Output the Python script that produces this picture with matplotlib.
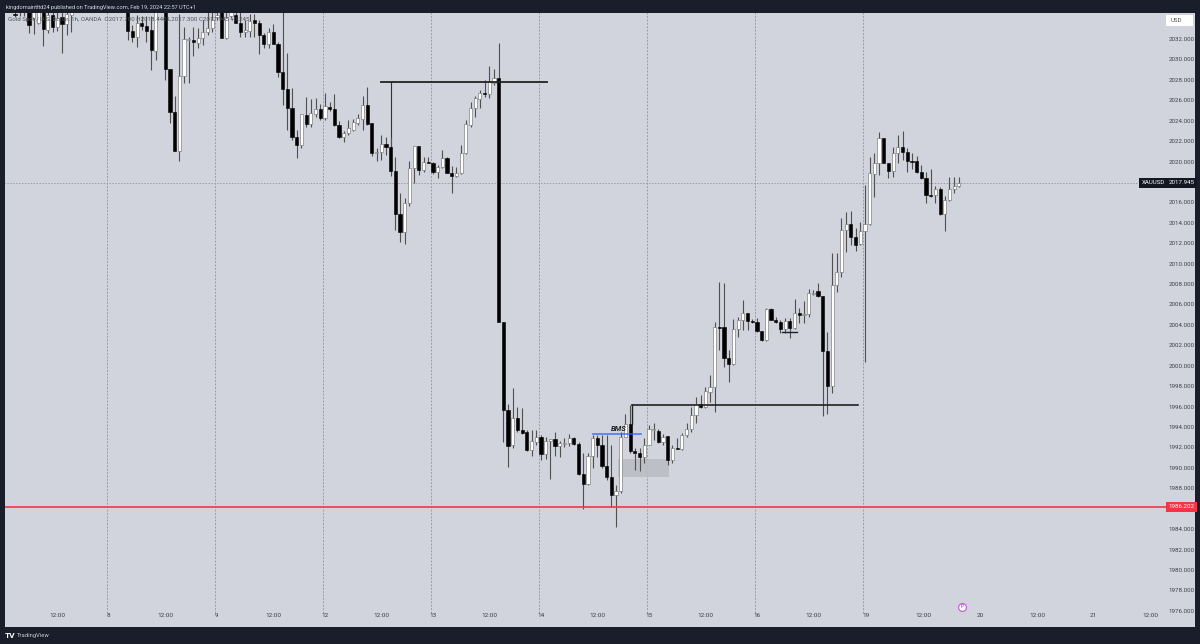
import matplotlib
matplotlib.use('Agg')
import matplotlib.pyplot as plt
from matplotlib.patches import Rectangle

plt.rcParams['font.family'] = ['Roboto', 'DejaVu Sans']

# hourly candles, first one sits at bar -20 (bar 0 = Feb 8 00:00)
first_bar = -20

opens = [
    2034.5, 2035.2, 2035.4, 2035.3, 2034.1, 2033.6, 2035.0, 2032.9, 2034.4, 2033.2,
    2034.2, 2033.5, 2034.4, 2035.0, 2035.8, 2036.4, 2036.0, 2036.6, 2037.2, 2036.9,
    2037.4, 2037.9, 2037.3, 2036.8, 2035.3, 2032.8, 2032.2, 2033.6, 2033.3, 2032.9,
    2030.8, 2035.3, 2035.0, 2029.1, 2024.9, 2021.0, 2028.4, 2031.9, 2031.9, 2031.6,
    2032.1, 2032.7, 2033.1, 2034.2, 2035.3, 2032.1, 2034.3, 2034.4, 2033.6, 2032.7,
    2032.8, 2033.9, 2033.6, 2032.4, 2031.5, 2032.7, 2031.5, 2028.8, 2027.1, 2025.2,
    2022.4, 2021.6, 2024.6, 2023.7, 2024.7, 2025.1, 2024.3, 2025.3, 2025.1, 2023.6,
    2022.4, 2022.8, 2023.1, 2023.8, 2024.2, 2025.5, 2023.8, 2020.8, 2020.9, 2021.7,
    2021.4, 2019.1, 2014.9, 2013.1, 2015.9, 2019.4, 2021.5, 2019.2, 2020.0, 2019.9,
    2019.0, 2019.5, 2020.3, 2018.9, 2018.6, 2018.9, 2020.8, 2023.6, 2025.2, 2026.1,
    2026.7, 2026.6, 2027.7, 2028.2, 2004.3, 1995.7, 1992.2, 1994.9, 1993.7, 1993.5,
    1991.7, 1992.5, 1993.0, 1991.4, 1992.6, 1992.8, 1992.1, 1992.3, 1992.4, 1992.9,
    1992.3, 1989.4, 1988.4, 1991.2, 1992.9, 1992.2, 1990.2, 1989.1, 1987.3, 1987.7,
    1993.0, 1994.3, 1991.6, 1991.5, 1991.1, 1992.2, 1993.7, 1993.6, 1992.5, 1993.1,
    1990.8, 1991.9, 1991.8, 1993.2, 1993.8, 1995.2, 1996.3, 1996.0, 1997.4, 1997.9,
    2003.8, 2003.8, 2000.8, 2000.2, 2003.6, 2004.5, 2005.2, 2004.4, 2004.3, 2003.4,
    2002.5, 2005.6, 2004.5, 2004.3, 2003.6, 2004.4, 2003.7, 2005.2, 2005.0, 2005.1,
    2007.0, 2007.3, 2006.8, 2001.4, 1998.0, 2007.9, 2009.2, 2013.3, 2013.9, 2012.6,
    2011.9, 2013.2, 2013.9, 2018.8, 2019.9, 2022.3, 2019.9, 2019.1, 2020.8, 2021.4,
    2020.9, 2020.1, 2020.1, 2019.0, 2018.4, 2016.7, 2016.7, 2017.3, 2014.9, 2016.2,
    2017.3, 2017.6,
]
highs = [
    2034.8, 2035.6, 2035.8, 2035.8, 2035.8, 2035.6, 2035.6, 2035.0, 2035.0, 2035.0,
    2034.8, 2035.0, 2035.6, 2036.2, 2036.8, 2037.2, 2036.9, 2037.6, 2038.0, 2037.8,
    2038.3, 2038.5, 2037.9, 2037.4, 2035.8, 2033.4, 2034.4, 2034.3, 2034.3, 2034.3,
    2035.8, 2036.4, 2035.8, 2029.1, 2026.4, 2034.5, 2033.2, 2032.2, 2033.2, 2033.1,
    2033.9, 2034.6, 2034.8, 2035.0, 2035.8, 2035.3, 2035.3, 2034.8, 2034.6, 2033.9,
    2034.5, 2034.5, 2033.9, 2032.6, 2033.1, 2033.5, 2031.7, 2035.8, 2030.6, 2027.2,
    2023.1, 2024.7, 2026.3, 2026.1, 2026.2, 2025.6, 2026.7, 2025.8, 2026.6, 2024.0,
    2023.0, 2024.1, 2024.2, 2024.7, 2026.4, 2027.3, 2023.8, 2021.3, 2022.6, 2022.4,
    2022.4, 2020.4, 2016.9, 2016.4, 2020.1, 2021.5, 2021.5, 2020.4, 2020.4, 2020.0,
    2019.7, 2021.1, 2020.4, 2019.6, 2019.5, 2021.6, 2024.1, 2025.8, 2026.4, 2027.0,
    2028.0, 2029.4, 2029.1, 2031.6, 2004.3, 1996.3, 1997.8, 1996.0, 1995.9, 1993.7,
    1993.7, 1993.7, 1993.2, 1993.0, 1992.8, 1993.5, 1992.6, 1992.9, 1993.3, 1993.0,
    1992.5, 1991.5, 1991.5, 1993.2, 1993.2, 1993.2, 1993.2, 1992.2, 1988.3, 1993.5,
    1995.3, 1996.2, 1991.9, 1991.9, 1992.9, 1994.2, 1994.4, 1993.8, 1993.3, 1993.1,
    1992.2, 1992.9, 1993.4, 1994.4, 1996.0, 1996.9, 1997.1, 1997.9, 1999.1, 2004.3,
    2008.2, 2008.1, 2001.5, 2004.6, 2004.8, 2006.4, 2005.2, 2004.6, 2004.7, 2003.4,
    2005.7, 2005.7, 2004.8, 2004.5, 2004.7, 2004.7, 2006.5, 2005.7, 2006.3, 2007.5,
    2007.4, 2008.1, 2006.8, 2003.3, 2011.0, 2011.0, 2014.5, 2015.1, 2015.2, 2013.5,
    2014.1, 2017.7, 2020.4, 2020.8, 2022.9, 2022.3, 2019.9, 2021.4, 2022.6, 2023.0,
    2021.3, 2020.8, 2020.5, 2019.7, 2019.0, 2019.3, 2017.6, 2017.5, 2016.6, 2018.5,
    2018.5, 2018.5,
]
lows = [
    2034.2, 2034.3, 2034.3, 2032.6, 2032.5, 2033.5, 2031.3, 2032.6, 2032.7, 2032.8,
    2030.6, 2032.4, 2032.7, 2034.7, 2035.2, 2035.8, 2035.4, 2036.1, 2036.6, 2036.4,
    2036.9, 2037.0, 2036.5, 2035.8, 2031.9, 2031.7, 2031.2, 2032.9, 2031.7, 2029.0,
    2029.9, 2034.8, 2028.0, 2023.8, 2021.0, 2020.1, 2027.7, 2027.7, 2030.3, 2031.1,
    2031.4, 2032.4, 2032.7, 2033.9, 2032.1, 2032.0, 2034.1, 2033.6, 2032.2, 2032.2,
    2032.2, 2032.2, 2030.5, 2031.1, 2031.1, 2031.5, 2028.3, 2025.5, 2023.1, 2022.1,
    2020.3, 2021.3, 2023.4, 2023.4, 2024.4, 2024.1, 2024.1, 2025.0, 2023.5, 2022.3,
    2021.9, 2022.6, 2023.0, 2023.6, 2023.1, 2023.6, 2020.5, 2020.1, 2020.2, 2020.6,
    2018.6, 2013.3, 2012.1, 2011.9, 2015.6, 2017.9, 2018.7, 2019.0, 2019.9, 2018.8,
    2018.4, 2019.4, 2018.9, 2016.9, 2018.5, 2018.8, 2020.7, 2023.4, 2024.4, 2025.2,
    2026.3, 2026.2, 2027.5, 2004.3, 1992.5, 1990.1, 1991.9, 1993.5, 1993.3, 1991.6,
    1991.2, 1992.2, 1990.8, 1990.9, 1988.9, 1991.2, 1991.1, 1992.0, 1992.1, 1992.2,
    1989.3, 1986.0, 1988.3, 1990.0, 1991.1, 1990.0, 1988.8, 1986.2, 1984.2, 1987.5,
    1993.0, 1991.5, 1989.8, 1989.7, 1990.5, 1992.2, 1992.7, 1992.4, 1992.2, 1990.3,
    1990.5, 1991.8, 1991.7, 1993.0, 1993.5, 1994.4, 1995.9, 1995.9, 1996.4, 1995.5,
    2001.5, 1999.9, 1998.4, 2000.1, 2002.8, 2003.5, 2003.5, 2004.2, 2003.3, 2002.4,
    2002.4, 2004.5, 2004.2, 2003.2, 2003.2, 2002.7, 2003.6, 2004.2, 2004.2, 2004.8,
    2006.9, 2006.7, 1995.1, 1995.3, 1997.3, 2007.2, 2008.7, 2011.1, 2011.8, 2011.2,
    2011.8, 2000.4, 2013.8, 2016.5, 2018.7, 2019.9, 2018.4, 2018.5, 2019.9, 2020.2,
    2019.0, 2019.3, 2018.9, 2018.3, 2015.9, 2016.5, 2015.9, 2014.8, 2013.2, 2016.1,
    2016.9, 2017.5,
]
closes = [
    2034.4, 2035.4, 2035.1, 2033.4, 2035.3, 2035.0, 2033.0, 2034.4, 2033.2, 2034.1,
    2033.5, 2034.5, 2035.0, 2035.8, 2036.4, 2036.0, 2036.6, 2037.2, 2036.9, 2037.4,
    2037.9, 2037.3, 2036.8, 2036.4, 2032.8, 2032.2, 2033.6, 2033.3, 2032.8, 2030.9,
    2035.3, 2036.0, 2029.1, 2024.9, 2021.0, 2028.4, 2032.0, 2032.0, 2031.7, 2032.1,
    2032.7, 2033.1, 2033.9, 2034.4, 2032.1, 2034.2, 2034.8, 2033.6, 2032.7, 2032.9,
    2033.8, 2033.6, 2032.4, 2031.5, 2032.7, 2031.5, 2028.8, 2027.1, 2025.2, 2022.4,
    2021.6, 2024.7, 2023.7, 2024.8, 2025.1, 2024.3, 2025.4, 2025.1, 2023.6, 2022.4,
    2022.8, 2023.3, 2023.9, 2024.3, 2025.5, 2023.7, 2020.8, 2020.9, 2021.7, 2021.4,
    2019.1, 2014.9, 2013.1, 2015.9, 2019.4, 2021.5, 2019.2, 2020.0, 2019.9, 2019.0,
    2019.5, 2020.3, 2018.9, 2018.6, 2018.9, 2020.8, 2023.7, 2025.2, 2026.2, 2026.7,
    2026.6, 2027.8, 2028.2, 2004.3, 1995.7, 1992.1, 1994.9, 1993.7, 1993.4, 1991.7,
    1992.6, 1993.0, 1991.4, 1992.6, 1992.8, 1992.1, 1992.4, 1992.4, 1992.9, 1992.3,
    1989.4, 1988.4, 1991.2, 1992.9, 1992.2, 1990.2, 1989.1, 1987.3, 1987.7, 1993.0,
    1994.3, 1991.6, 1991.5, 1991.1, 1992.2, 1993.8, 1993.8, 1992.5, 1993.0, 1990.8,
    1991.9, 1991.8, 1993.2, 1993.8, 1995.2, 1996.3, 1996.0, 1997.5, 1997.9, 2003.8,
    2003.7, 2000.8, 2000.2, 2003.6, 2004.5, 2005.2, 2004.4, 2004.3, 2003.4, 2002.5,
    2005.6, 2004.5, 2004.3, 2003.6, 2004.4, 2003.7, 2005.2, 2005.0, 2005.1, 2007.1,
    2007.1, 2006.8, 2001.4, 1998.0, 2007.9, 2009.2, 2013.3, 2013.9, 2012.6, 2011.8,
    2013.2, 2013.9, 2018.9, 2019.9, 2022.3, 2019.9, 2019.1, 2020.8, 2021.4, 2020.9,
    2020.1, 2020.0, 2019.0, 2018.4, 2016.7, 2016.6, 2017.3, 2014.9, 2016.2, 2017.3,
    2017.6, 2017.945,
]

# 1986 and 2018 sit under the red and last price badges
price_ticks = [1976, 1978, 1980, 1982, 1984, 1988, 1990, 1992, 1994, 1996, 1998, 2000, 2002, 2004, 2006,
               2008, 2010, 2012, 2014, 2016, 2020, 2022, 2024, 2026, 2028, 2030, 2032]
day_bars = [0, 23, 46, 69, 92, 115, 138, 161]
time_tick_bars = [-11, 0, 12, 23, 35, 46, 58, 69, 81, 92, 104, 115, 127, 138, 150,
                  161.3, 173.4, 185.5, 197.7, 209.6, 221.7]
time_tick_labels = ['12:00', '8', '12:00', '9', '12:00', '12', '12:00', '13', '12:00', '14',
                    '12:00', '15', '12:00', '16', '12:00', '19', '12:00', '20', '12:00', '21', '12:00']

last_price = 2017.945
red_level = 1986.202
dark = '#1a1e2b'
pane = '#d1d4dc'

fig = plt.figure(figsize=(12, 6.44), dpi=100, facecolor=dark)
ax = fig.add_axes([5 / 1200, 17 / 644, 1190 / 1200, 614 / 644], facecolor=pane)

# dashed day separators
for b in day_bars:
    ax.plot([b - 0.4, b - 0.4], [1975.8, 2034.6], color='#9a9da6', lw=0.7, ls=(0, (2, 1.5)), zorder=1)
ax.plot([-23, 220.5], [last_price, last_price], color='#9a9da6', lw=0.7, ls=(0, (1.5, 1.5)), zorder=1)

# order block box goes under the candles
ax.add_patch(Rectangle((108.4, 1989.1), 10.9, 1.8, fc='#b9bcc2', ec='none', alpha=0.85, zorder=1.5))

bars = list(range(first_bar, first_bar + len(opens)))
ax.vlines(bars, lows, highs, color='#505050', lw=0.8, zorder=2)
for b, o, c in zip(bars, opens, closes):
    col = 'white' if c >= o else 'black'
    ax.bar(b, abs(c - o), bottom=min(o, c), width=0.68, color=col, edgecolor='#6a6a6a' if col == 'white' else 'black',
           linewidth=0.4, zorder=3)

# drawn levels
ax.plot([57.9, 93.3], [2027.8, 2027.8], color='#222222', lw=1.3, zorder=4)
ax.plot([60, 60], [2027.8, 2021.4], color='#333333', lw=0.8, zorder=1.8)
ax.plot([111.4, 159.5], [1996.2, 1996.2], color='#222222', lw=1.2, zorder=4)
ax.plot([111.4, 111.4], [1996.2, 1994.3], color='#222222', lw=1.0, zorder=4)
ax.plot([143.4, 146.6], [2003.3, 2003.3], color='#222222', lw=1.0, zorder=4)
ax.plot([103.1, 113.3], [1993.3, 1993.3], color='#2962ff', lw=1.2, alpha=0.8, zorder=4)
ax.text(108.6, 1993.55, 'BMS', fontsize=5.5, style='italic', fontweight='bold', color='#222222',
        ha='center', va='bottom', zorder=5)
ax.axhline(red_level, xmax=0.9756, color='#f23645', lw=1.2, zorder=4)

ax.set_xlim(-22.13, 231.28)
ax.set_ylim(1974.41, 2034.55)

ax.set_yticks(price_ticks)
ax.set_yticklabels([f'{p}.000' for p in price_ticks])
ax.yaxis.tick_right()
ax.tick_params(axis='y', length=0, pad=-19, labelsize=4.4, labelcolor='#3c3f46')
ax.set_xticks(time_tick_bars)
ax.set_xticklabels(time_tick_labels)
ax.tick_params(axis='x', length=0, pad=-10, labelsize=4.6, labelcolor='#3c3f46')
for s in ax.spines.values():
    s.set_visible(False)

# price scale badges
tr = ax.get_yaxis_transform()
ax.text(0.9775, last_price, f'{last_price:.3f}', transform=tr, fontsize=4.4, color='white', va='center', ha='left',
        bbox=dict(fc='#131722', ec='none', pad=1.8), zorder=6)
ax.text(0.9745, last_price, 'XAUUSD', transform=tr, fontsize=4.4, color='white', va='center', ha='right',
        bbox=dict(fc='#131722', ec='none', pad=1.8), zorder=6)
ax.text(0.9775, red_level, f'{red_level:.3f}', transform=tr, fontsize=4.4, color='white', va='center', ha='left',
        bbox=dict(fc='#f23645', ec='none', pad=1.8), zorder=6)
fig.patches.append(Rectangle((1166 / 1200, 1 - 26 / 644), 27 / 1200, 11 / 644, transform=fig.transFigure,
                             fc='white', ec='none', zorder=6))
fig.text(1171 / 1200, 1 - 20.5 / 644, 'USD', fontsize=4.4, color='#555555', va='center', zorder=7)

# flag marker near the last candle
ax.scatter([181.6], [1976.4], s=32, fc='white', ec='#d05ce3', lw=0.9, zorder=5)
ax.text(181.6, 1976.4, 'P', fontsize=3.5, color='#9c27b0', ha='center', va='center', zorder=6)

# chart title inside the pane
ax.text(3 / 1190, 1 - 6.5 / 614, 'Gold Spot / U.S. Dollar, 1h, OANDA  O2017.700 H2018.440 L2017.300 C2017.945 +0.245',
        transform=ax.transAxes, fontsize=4.4, color='#50535b', va='center', zorder=7)

fig.text(6 / 1200, 1 - 7 / 644, 'kingdomaintltd24 published on TradingView.com, Feb 19, 2024 22:57 UTC+1',
         fontsize=4.1, color='#d6d8de', va='center')
fig.text(5 / 1200, 1 - 636 / 644, 'TV', fontsize=6, fontweight='bold', color='white', va='center')
fig.text(17 / 1200, 1 - 636 / 644, 'TradingView', fontsize=4.2, color='#c8cad0', va='center')

fig.savefig('out.png', dpi=100, facecolor=dark)
